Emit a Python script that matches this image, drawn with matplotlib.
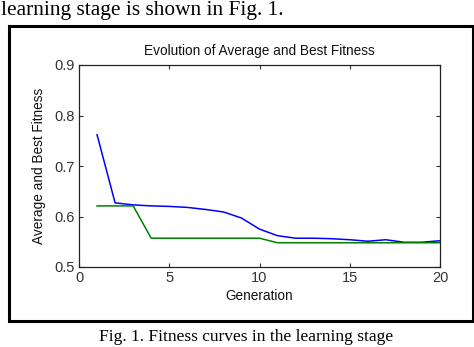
import matplotlib
matplotlib.use("Agg")
import matplotlib.pyplot as plt
from matplotlib.patches import Rectangle

generations = list(range(1, 21))
average_fitness = [0.762, 0.627, 0.623, 0.621, 0.620, 0.618, 0.614, 0.609, 0.597, 0.575,
                   0.562, 0.557, 0.557, 0.556, 0.554, 0.551, 0.554, 0.549, 0.549, 0.552]
best_fitness = [0.621, 0.621, 0.621, 0.557, 0.557, 0.557, 0.557, 0.557, 0.557, 0.557,
                0.548, 0.548, 0.548, 0.548, 0.548, 0.548, 0.548, 0.548, 0.548, 0.548]
xticks = [0, 5, 10, 15, 20]
yticks = [0.5, 0.6, 0.7, 0.8, 0.9]

W, H = 474, 347
fig = plt.figure(figsize=(W / 100, H / 100), dpi=100)
fig.patch.set_facecolor("white")

ax = fig.add_axes([79 / W, 1 - 267 / H, (440 - 79) / W, (267 - 65) / H])
ax.plot(generations, average_fitness, color="#0000ff", lw=1.1)
ax.plot(generations, best_fitness, color="#008000", lw=1.1)
ax.set_xlim(0, 20)
ax.set_ylim(0.5, 0.9)
ax.set_xticks(xticks)
ax.set_yticks(yticks)
ax.set_xticklabels([str(t) for t in xticks])
ax.set_yticklabels([f"{t:.1f}" for t in yticks])
ax.tick_params(direction="in", top=True, right=True, length=3, width=0.8,
               labelsize=10.5, colors="#333333", pad=3)
for t in ax.get_xticklabels() + ax.get_yticklabels():
    t.set_fontfamily("Liberation Sans")
for s in ax.spines.values():
    s.set_linewidth(0.9)
    s.set_color("#222222")
ax.set_title("Evolution of Average and Best Fitness", fontsize=9.8,
             fontfamily="Liberation Sans", pad=7, color="#111111")
ax.set_xlabel("Generation", fontsize=9.8, fontfamily="Liberation Sans", labelpad=3, color="#111111")
ax.set_ylabel("Average and Best Fitness", fontsize=9.8, fontfamily="Liberation Sans",
              labelpad=6, color="#111111")

# border box around the figure panel
fig.patches.append(Rectangle((9 / W, 1 - 321 / H), (473 - 9) / W, (321 - 26) / H,
                             transform=fig.transFigure, fill=False, lw=2.2,
                             edgecolor="black"))

fig.text(1 / W, 1 - 10 / H, "learning stage is shown in Fig. 1.", fontsize=15.4,
         fontfamily="Liberation Serif", va="center", ha="left")
fig.text(246 / W, 1 - 337 / H, "Fig. 1. Fitness curves in the learning stage", fontsize=12.5,
         fontfamily="Liberation Serif", va="center", ha="center")

fig.savefig("out.png", dpi=100)
